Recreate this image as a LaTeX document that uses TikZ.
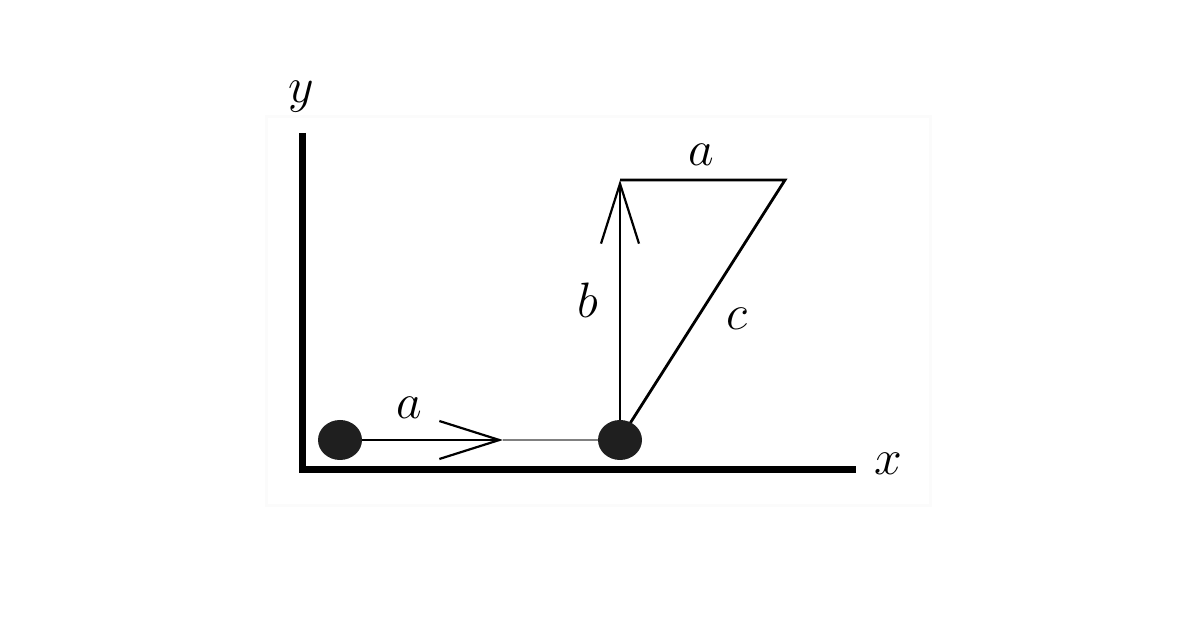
\documentclass[tikz,border=0pt]{standalone}
\usetikzlibrary{arrows.meta,calc,shapes.geometric}
\begin{document}
\begin{tikzpicture}[x=0.5pt,y=-0.5pt,
  ball/.style={ellipse,fill=black!88,minimum width=22pt,minimum height=20pt,inner sep=0pt},
  lbl/.style={inner sep=0pt,font=\fontsize{31}{36}\selectfont},
  axis/.style={line width=3.5pt},
  thin/.style={line width=1pt},
  barb/.style={-{Straight Barb[length=30pt,width=19pt,line width=1.1pt]}}]
\useasboundingbox (0,0) rectangle (1200,630);
\fill[white!98.5!black] (265,115) rectangle (932,507);
\fill[white] (268,118) rectangle (929,504);
% axes
\coordinate (O) at (302,470);
\coordinate (ytop) at (302,133);
\coordinate (xend) at (856,470);
\draw[axis] (ytop) -- (O) -- (xend);
\node[lbl] (ylab) at (301,97) {$y$};
\node[lbl] (xlab) at (888,464) {$x$};
% ball positions
\coordinate (p1) at (340,440);
\coordinate (p2) at (620,440);
% horizontal move
\coordinate (tipA) at (503,440);
\draw[thin,black!50] (tipA) -- (p2);
\draw[thin,barb] (p1) -- (tipA);
\node[lbl] (la) at (409,408) {$a$};
% triangle
\coordinate (T) at (620,180);
\coordinate (R) at (785,180);
\coordinate (C) at (629,425);
\draw[thin,barb] (p2) -- (T);
\draw[line width=1.4pt] (T) -- (R) -- (C);
\node[lbl] (lb) at (588,300) {$b$};
\node[lbl] (lc) at (737,319) {$c$};
\node[lbl] (la2) at (701,155) {$a$};
% balls
\node[ball] (b1) at (p1) {};
\node[ball] (b2) at (p2) {};
\end{tikzpicture}
\end{document}
